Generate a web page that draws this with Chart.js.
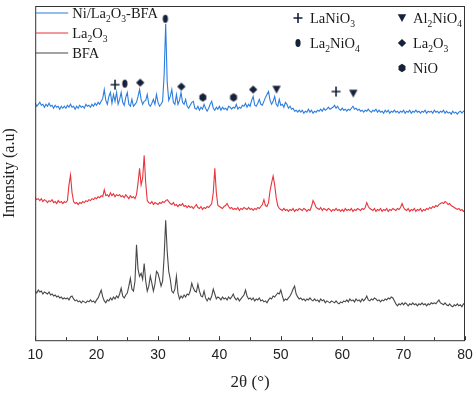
<!DOCTYPE html>
<html>
<head>
<meta charset="utf-8">
<script src="https://cdn.jsdelivr.net/npm/chart.js@4.4.1/dist/chart.umd.min.js"></script>
<style>
  html, body { margin: 0; padding: 0; background: #fff; }
  #wrap { width: 474px; height: 394px; }
</style>
</head>
<body>
<div id="wrap"><canvas id="xrd" width="474" height="394"></canvas></div>
<script>
// scan settings: first angle and step (one intensity value per step)
const angleStart = 10;
const angleStep = 0.25;

const seriesNames = ['Ni/La2O3-BFA', 'La2O3', 'BFA'];
const seriesColors = ['#2b7de0', '#e8343b', '#484848'];

// Ni/La2O3-BFA (offset curve, arbitrary units)
const niLaBfa = [
  241,238,240,242,239,240,237,240,238,241,238,239,236,239,237,238,235,238,236,238,
  236,239,237,240,237,238,235,238,236,239,237,238,236,240,238,239,237,240,238,241,
  239,242,240,243,246,255,244,240,248,252,241,250,243,252,240,245,252,242,239,247,
  252,240,238,245,238,240,242,248,255,245,240,243,244,250,240,238,241,245,240,250,
  242,238,240,243,270,322,262,244,248,255,242,240,250,240,244,252,242,240,245,238,
  236,239,242,243,236,235,238,234,237,235,240,236,233,236,240,243,236,234,237,235,
  238,234,237,235,236,234,238,237,235,237,236,240,235,237,236,239,238,241,237,240,
  238,244,248,239,238,241,245,240,239,243,247,250,253,244,240,243,248,240,238,245,
  239,240,237,242,240,236,238,235,236,233,234,232,234,232,234,231,233,232,235,232,
  234,231,233,232,234,233,235,233,236,234,235,237,235,236,237,239,236,238,235,234,
  236,234,235,233,235,234,236,238,235,236,234,235,233,234,232,234,233,235,233,232,
  234,233,235,232,234,232,233,231,234,232,234,231,233,232,234,232,233,231,233,232,
  234,231,233,232,234,231,233,232,234,232,233,231,233,232,234,231,233,232,233,231,
  234,232,233,231,233,232,234,231,233,231,232,230,233,231,232,230,232,233,231,233,
  232
];

// La2O3
const la2o3 = [
  145,143,144,142,144,141,143,142,140,142,141,143,140,141,139,142,140,141,139,141,
  140,142,158,168,150,141,139,140,138,140,139,141,140,142,141,143,142,144,143,145,
  144,146,145,147,146,153,147,148,146,150,147,149,146,148,147,148,146,147,145,148,
  146,144,147,145,146,144,148,160,175,158,165,188,160,142,140,139,141,138,140,139,
  138,140,139,141,140,142,143,141,139,138,140,137,138,136,138,137,139,136,137,135,
  137,135,136,134,136,138,135,134,136,133,135,134,136,135,137,139,150,175,150,137,
  136,135,134,136,137,139,136,134,135,133,134,133,135,132,134,133,135,134,133,135,
  133,134,132,134,133,135,134,136,138,143,137,136,140,152,160,167,158,145,137,134,
  133,132,134,132,133,131,133,132,134,131,133,132,134,133,132,134,133,131,133,132,
  136,142,139,135,134,133,135,132,134,133,132,134,133,131,133,132,134,132,133,131,
  133,131,134,132,133,132,134,131,133,132,134,133,132,134,133,135,140,136,134,133,
  132,134,131,133,132,134,131,133,132,134,131,133,132,134,133,132,134,133,135,139,
  135,133,132,134,131,133,132,134,131,133,132,134,131,133,132,134,133,135,134,136,
  135,137,136,138,139,140,139,141,140,138,139,137,136,135,134,133,134,132,133,131,
  132
];

// BFA
const bfa = [
  50,48,51,49,50,47,49,48,47,49,46,47,45,46,44,45,43,44,42,43,
  42,43,41,44,45,42,40,41,39,40,38,40,39,38,40,39,41,39,40,38,
  41,43,47,51,44,40,38,41,40,43,41,44,42,45,43,47,53,45,43,46,
  48,55,63,52,50,60,97,72,65,68,62,78,60,50,55,65,58,50,57,70,
  68,62,55,60,85,122,90,70,62,50,48,52,65,48,42,45,43,46,44,47,
  46,50,58,53,50,49,57,50,45,44,50,43,40,43,41,45,52,47,42,44,
  43,41,44,42,43,41,44,42,44,47,43,41,43,40,42,44,46,51,45,42,
  43,41,43,40,42,41,43,40,41,39,40,38,41,43,42,45,44,46,48,47,
  51,45,40,42,41,43,45,48,52,55,47,44,42,43,41,42,40,42,41,43,
  41,40,42,40,41,39,42,40,41,38,40,39,38,40,39,38,40,38,37,39,
  38,40,39,41,39,42,40,41,39,42,40,41,39,42,40,42,45,41,40,42,
  41,43,42,40,41,39,41,40,42,41,43,42,44,43,40,37,35,37,36,38,
  36,38,37,35,37,36,38,36,37,35,37,36,38,36,37,35,37,36,38,37,
  38,37,39,41,38,37,36,38,36,35,37,35,34,36,35,37,35,36,34,37,
  36
];

const xTicks = [10, 20, 30, 40, 50, 60, 70, 80];
const xMinorTicks = [15, 25, 35, 45, 55, 65, 75];

// phase reflections marked above the Ni/La2O3-BFA pattern
const phaseNames = ['LaNiO3', 'La2NiO4', 'Al2NiO4', 'La2O3', 'NiO'];
const laNiO3Angles = [23.0, 59.0];
const laNiO3Heights = [260, 253];
const la2NiO4Angles = [24.6, 31.2];
const la2NiO4Heights = [261, 327];
const al2NiO4Angles = [49.3, 61.8];
const al2NiO4Heights = [255, 251];
const la2O3Angles = [27.1, 33.8, 45.5];
const la2O3Heights = [262, 258, 255];
const nioAngles = [37.3, 42.3];
const nioHeights = [247, 247];

const markColor = '#16213a';

// small canvases used as point styles
function makeSymbol(kind) {
    const c = document.createElement('canvas');
    c.width = 12; c.height = 12;
    const g = c.getContext('2d');
    g.fillStyle = markColor;
    g.strokeStyle = markColor;
    g.beginPath();
    if (kind === 'plus') {
        g.lineWidth = 1.6;
        g.moveTo(1.5, 6); g.lineTo(10.5, 6);
        g.moveTo(6, 1); g.lineTo(6, 11);
        g.stroke();
        return c;
    }
    if (kind === 'oval') {
        g.ellipse(6, 6, 2.6, 4, 0, 0, Math.PI * 2);
    } else if (kind === 'triangle') {
        g.moveTo(1.8, 2.2); g.lineTo(10.2, 2.2); g.lineTo(6, 10);
    } else if (kind === 'diamond') {
        g.moveTo(6, 2); g.lineTo(10.2, 6); g.lineTo(6, 10); g.lineTo(1.8, 6);
    } else if (kind === 'hex') {
        for (let i = 0; i < 6; i++) {
            const a = Math.PI / 6 + i * Math.PI / 3;
            g.lineTo(6 + 4 * Math.cos(a), 6 + 4.2 * Math.sin(a));
        }
    }
    g.closePath();
    g.fill();
    return c;
}

const symbols = {
    LaNiO3: makeSymbol('plus'),
    La2NiO4: makeSymbol('oval'),
    Al2NiO4: makeSymbol('triangle'),
    La2O3: makeSymbol('diamond'),
    NiO: makeSymbol('hex')
};

function toPoints(values) {
    return values.map((v, i) => ({ x: angleStart + i * angleStep, y: v }));
}
function toMarks(angles, heights) {
    return angles.map((a, i) => ({ x: a, y: heights[i] }));
}

// text with chemical subscripts (digits drawn lowered and smaller)
function drawChem(ctx, text, x, y, size) {
    let cx = x;
    text.split(/(\d+)/).forEach(part => {
        if (!part) return;
        const sub = /^\d+$/.test(part);
        ctx.font = (sub ? size * 0.66 : size) + 'px "Liberation Serif", "Times New Roman", serif';
        ctx.fillText(part, cx, sub ? y + size * 0.28 : y);
        cx += ctx.measureText(part).width;
    });
}

const framePlugin = {
    id: 'frame',
    afterDraw(chart) {
        const { ctx, chartArea: a } = chart;
        const xs = chart.scales.x;
        ctx.save();
        ctx.strokeStyle = '#333';
        ctx.lineWidth = 1;
        ctx.strokeRect(a.left + 0.5, a.top + 0.5, a.right - a.left - 1, a.bottom - a.top);
        ctx.beginPath();
        xTicks.forEach(v => {
            const px = Math.round(xs.getPixelForValue(v)) + 0.5;
            ctx.moveTo(px, a.bottom); ctx.lineTo(px, a.bottom - 4);
        });
        xMinorTicks.forEach(v => {
            const px = Math.round(xs.getPixelForValue(v)) + 0.5;
            ctx.moveTo(px, a.bottom); ctx.lineTo(px, a.bottom - 3);
        });
        ctx.stroke();
        ctx.restore();
    }
};

const legendPlugin = {
    id: 'legends',
    afterDraw(chart) {
        const { ctx, chartArea: a } = chart;
        ctx.save();
        ctx.textBaseline = 'alphabetic';
        ctx.fillStyle = '#1a1a1a';
        // sample legend, top left
        seriesNames.forEach((name, i) => {
            const base = 18 + i * 20;
            ctx.strokeStyle = seriesColors[i];
            ctx.lineWidth = 1.2;
            ctx.beginPath();
            ctx.moveTo(a.left, base - 5);
            ctx.lineTo(a.left + 33, base - 5);
            ctx.stroke();
            ctx.fillStyle = '#1a1a1a';
            drawChem(ctx, name, a.left + 37, base, 14.5);
        });
        // phase legend, top right
        const cols = [
            { sx: 298, tx: 310, names: ['LaNiO3', 'La2NiO4'] },
            { sx: 402, tx: 413, names: ['Al2NiO4', 'La2O3', 'NiO'] }
        ];
        cols.forEach(col => {
            col.names.forEach((name, j) => {
                const base = 23 + j * 25;
                const sym = symbols[name];
                ctx.drawImage(sym, col.sx - 6, base - 11);
                ctx.fillStyle = '#1a1a1a';
                drawChem(ctx, name, col.tx, base, 14.5);
            });
        });
        ctx.restore();
    }
};

const lineSet = (label, values, color) => ({
    type: 'line',
    label: label,
    data: toPoints(values),
    borderColor: color,
    borderWidth: 1.1,
    pointRadius: 0,
    tension: 0,
    fill: false,
    order: 2
});

const markSet = (label, angles, heights) => ({
    type: 'scatter',
    label: label,
    data: toMarks(angles, heights),
    pointStyle: symbols[label],
    pointRadius: 5,
    showLine: false,
    order: 1
});

new Chart(document.getElementById('xrd'), {
    data: {
        datasets: [
            lineSet(seriesNames[0], niLaBfa, seriesColors[0]),
            lineSet(seriesNames[1], la2o3, seriesColors[1]),
            lineSet(seriesNames[2], bfa, seriesColors[2]),
            markSet(phaseNames[0], laNiO3Angles, laNiO3Heights),
            markSet(phaseNames[1], la2NiO4Angles, la2NiO4Heights),
            markSet(phaseNames[2], al2NiO4Angles, al2NiO4Heights),
            markSet(phaseNames[3], la2O3Angles, la2O3Heights),
            markSet(phaseNames[4], nioAngles, nioHeights)
        ]
    },
    options: {
        responsive: false,
        devicePixelRatio: 1,
        animation: false,
        layout: { padding: { left: 0, right: 9, top: 1, bottom: 0 } },
        plugins: { legend: { display: false }, tooltip: { enabled: false } },
        scales: {
            x: {
                type: 'linear',
                min: 10, max: 80,
                afterBuildTicks: s => { s.ticks = xTicks.map(v => ({ value: v })); },
                ticks: {
                    color: '#222',
                    padding: 0,
                    font: { family: '"Liberation Sans", Arial, sans-serif', size: 14, lineHeight: 2.2 }
                },
                grid: { display: false, drawTicks: false },
                border: { display: false },
                title: {
                    display: true,
                    text: '2θ (°)',
                    color: '#222',
                    font: { family: '"Liberation Serif", "Times New Roman", serif', size: 17 },
                    padding: { top: 1.8, bottom: 0.8 }
                }
            },
            y: {
                min: 0, max: 340,
                ticks: { display: false },
                grid: { display: false, drawTicks: false },
                border: { display: false },
                title: {
                    display: true,
                    text: 'Intensity (a.u)',
                    color: '#222',
                    font: { family: '"Liberation Serif", "Times New Roman", serif', size: 16 },
                    padding: { top: 0, bottom: 16 }
                }
            }
        }
    },
    plugins: [framePlugin, legendPlugin]
});
</script>
</body>
</html>
